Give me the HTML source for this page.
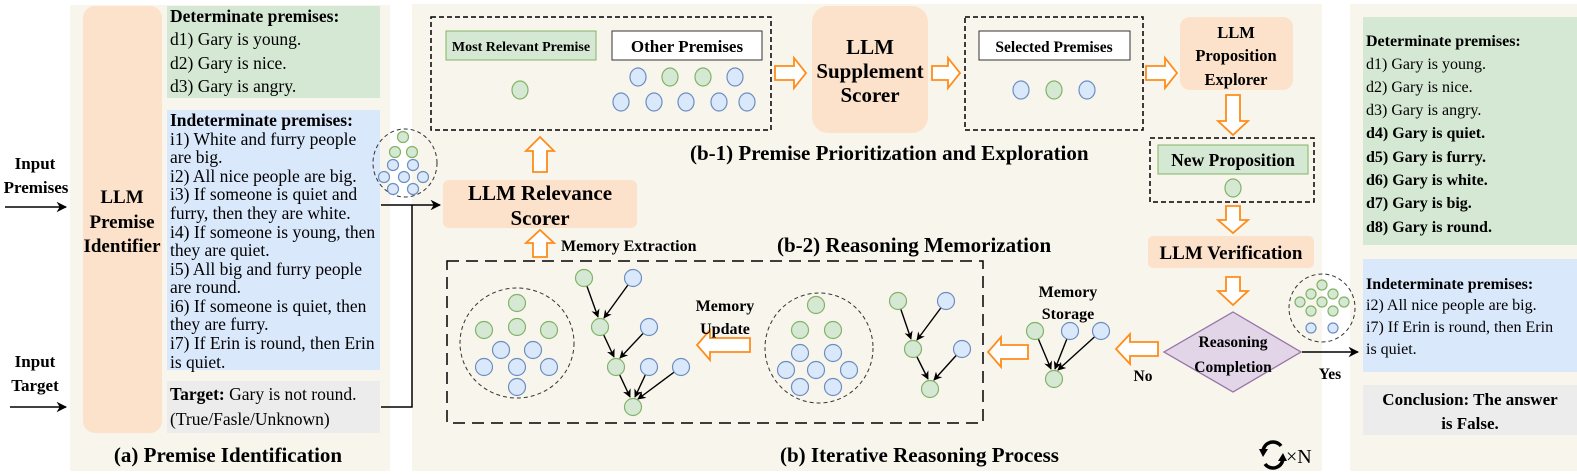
<!DOCTYPE html>
<html><head><meta charset="utf-8"><style>
html,body{margin:0;padding:0;background:#fff;}
svg{display:block;font-family:"Liberation Serif",serif;}
</style></head><body>
<svg width="1577" height="474" viewBox="0 0 1577 474" xmlns="http://www.w3.org/2000/svg" font-family="'Liberation Serif', serif">
<defs>
<marker id="ah" viewBox="0 0 10 10" refX="9" refY="5" markerWidth="7" markerHeight="7" orient="auto"><path d="M0,0 L10,5 L0,10 L3,5 z" fill="#000"/></marker>
<marker id="ah2" viewBox="0 0 10 10" refX="9" refY="5" markerWidth="6" markerHeight="6" orient="auto"><path d="M0,0 L10,5 L0,10 L3,5 z" fill="#000"/></marker>
</defs>
<rect x="70" y="5" width="320" height="466" fill="#f8f5ec"/>
<rect x="412" y="4" width="910" height="467" fill="#f8f5ec"/>
<rect x="1350" y="4" width="227" height="467" fill="#f8f5ec"/>

<rect x="83" y="6" width="79" height="427" rx="12" fill="#fde2cb"/>
<g font-weight="bold" font-size="19" text-anchor="middle"><text x="122" y="203">LLM</text><text x="122" y="228">Premise</text><text x="122" y="252">Identifier</text></g>
<rect x="167" y="6" width="213" height="92" fill="#d5e8d4"/>
<rect x="167" y="110" width="213" height="260" fill="#dae8fc"/>
<rect x="167" y="381" width="213" height="52" fill="#ececec"/>
<g font-size="17.5">
<text x="170" y="22" font-weight="bold">Determinate premises:</text>
<text x="170" y="45">d1) Gary is young.</text>
<text x="170" y="69">d2) Gary is nice.</text>
<text x="170" y="92">d3) Gary is angry.</text>
<text x="170" y="126" font-weight="bold">Indeterminate premises:</text>
<text x="170" y="145">i1) White and furry people</text>
<text x="170" y="163">are big.</text>
<text x="170" y="182">i2) All nice people are big.</text>
<text x="170" y="200">i3) If someone is quiet and</text>
<text x="170" y="219">furry, then they are white.</text>
<text x="170" y="238">i4) If someone is young, then</text>
<text x="170" y="256">they are quiet.</text>
<text x="170" y="275">i5) All big and furry people</text>
<text x="170" y="293">are round.</text>
<text x="170" y="312">i6) If someone is quiet, then</text>
<text x="170" y="330">they are furry.</text>
<text x="170" y="349">i7) If Erin is round, then Erin</text>
<text x="170" y="368">is quiet.</text>
<text x="170" y="400"><tspan font-weight="bold">Target:</tspan> Gary is not round.</text>
<text x="170" y="425">(True/Fasle/Unknown)</text>
</g>
<text x="228" y="462" font-size="21" font-weight="bold" text-anchor="middle">(a) Premise Identification</text>
<g font-size="17" font-weight="bold" text-anchor="middle"><text x="35" y="169">Input</text><text x="36" y="193">Premises</text><text x="35" y="367">Input</text><text x="35" y="391">Target</text></g>
<line x1="5" y1="207" x2="66" y2="207" stroke="#000" stroke-width="1.5" marker-end="url(#ah)"/>
<line x1="10" y1="407" x2="66" y2="407" stroke="#000" stroke-width="1.5" marker-end="url(#ah)"/>
<polyline points="381,407 412,407 412,205" fill="none" stroke="#000" stroke-width="1.5"/>
<line x1="381" y1="205" x2="440" y2="205" stroke="#000" stroke-width="1.5" marker-end="url(#ah)"/>
<ellipse cx="405" cy="163" rx="32" ry="34" fill="none" stroke="#333" stroke-dasharray="4,3"/>
<g stroke-width="1.2">
<g fill="#d5e8d4" stroke="#82b366"><circle cx="403" cy="137" r="5.5"/><circle cx="395" cy="152" r="5.5"/><circle cx="412" cy="152" r="5.5"/></g>
<g fill="#dae8fc" stroke="#6c8ebf"><circle cx="393" cy="165" r="5.5"/><circle cx="413" cy="165" r="5.5"/><circle cx="384" cy="177" r="5.5"/><circle cx="404" cy="177" r="5.5"/><circle cx="423" cy="177" r="5.5"/><circle cx="393" cy="189" r="5.5"/><circle cx="413" cy="189" r="5.5"/></g>
</g>

<rect x="431" y="17" width="340" height="113" fill="none" stroke="#000" stroke-width="1.5" stroke-dasharray="5,3"/>
<rect x="446" y="31" width="150" height="29" fill="#d5e8d4" stroke="#82b366"/>
<text x="521" y="51" font-size="14" font-weight="bold" text-anchor="middle">Most Relevant Premise</text>
<rect x="612" y="31" width="150" height="29" fill="#fff" stroke="#333"/>
<text x="687" y="52" font-size="17" font-weight="bold" text-anchor="middle">Other Premises</text>
<g stroke-width="1.2">
<g fill="#d5e8d4" stroke="#82b366"><ellipse cx="520" cy="90" rx="8" ry="9"/><ellipse cx="670" cy="77" rx="8" ry="9"/><ellipse cx="703" cy="77" rx="8" ry="9"/>
<ellipse cx="1054" cy="90" rx="8" ry="9"/><ellipse cx="1233" cy="188" rx="8" ry="9"/></g>
<g fill="#dae8fc" stroke="#6c8ebf"><ellipse cx="638" cy="77" rx="8" ry="9"/><ellipse cx="735" cy="77" rx="8" ry="9"/>
<ellipse cx="621" cy="102" rx="8" ry="9"/><ellipse cx="654" cy="102" rx="8" ry="9"/><ellipse cx="686" cy="102" rx="8" ry="9"/><ellipse cx="719" cy="102" rx="8" ry="9"/><ellipse cx="747" cy="102" rx="8" ry="9"/>
<ellipse cx="1021" cy="90" rx="8" ry="9"/><ellipse cx="1087" cy="90" rx="8" ry="9"/></g>
</g>
<rect x="812" y="6" width="116" height="127" rx="16" fill="#fde2cb"/>
<g font-size="21" font-weight="bold" text-anchor="middle"><text x="870" y="54">LLM</text><text x="870" y="78">Supplement</text><text x="870" y="102">Scorer</text></g>
<rect x="965" y="17" width="178" height="113" fill="none" stroke="#000" stroke-width="1.5" stroke-dasharray="5,3"/>
<rect x="979" y="31" width="151" height="29" fill="#fff" stroke="#333"/>
<text x="1054" y="52" font-size="15.5" font-weight="bold" text-anchor="middle">Selected Premises</text>
<rect x="1180" y="17" width="113" height="73" rx="10" fill="#fde2cb"/>
<g font-size="16.5" font-weight="bold" text-anchor="middle"><text x="1236" y="38">LLM</text><text x="1236" y="61">Proposition</text><text x="1236" y="85">Explorer</text></g>
<text x="690" y="160" font-size="21" font-weight="bold">(b-1) Premise Prioritization and Exploration</text>
<rect x="1150" y="138" width="164" height="64" fill="none" stroke="#000" stroke-width="1.5" stroke-dasharray="5,3"/>
<rect x="1158" y="145" width="150" height="29" fill="#d5e8d4" stroke="#82b366"/>
<text x="1233" y="166" font-size="17.5" font-weight="bold" text-anchor="middle">New Proposition</text>
<rect x="1148" y="236" width="166" height="32" rx="5" fill="#fde2cb"/>
<text x="1231" y="259" font-size="19" font-weight="bold" text-anchor="middle">LLM Verification</text>
<polygon points="1233,312 1301,352 1233,392 1164,352" fill="#e1d5e7" stroke="#9673a6" stroke-width="1.3"/>
<g font-size="15.5" font-weight="bold" text-anchor="middle"><text x="1233" y="347">Reasoning</text><text x="1233" y="372">Completion</text></g>
<line x1="1302" y1="352" x2="1358" y2="352" stroke="#000" stroke-width="1.5" marker-end="url(#ah)"/>
<text x="1330" y="379" font-size="15.5" font-weight="bold" text-anchor="middle">Yes</text>
<text x="1143" y="381" font-size="15.5" font-weight="bold" text-anchor="middle">No</text>

<g fill="#fff" stroke="#ff8c1a" stroke-width="1.8">
<path d="M775,66 H794 V58 L806,73 L794,88 V80 H775 Z"/>
<path d="M932,66 H948 V58 L960,73 L948,88 V80 H932 Z"/>
<path d="M1146,66 H1165 V58 L1177,73 L1165,88 V80 H1146 Z"/>
<path d="M1226,95 V121 H1218 L1233,135 L1248,121 H1240 V95 Z"/>
<path d="M1226,206 V220 H1218 L1233,233 L1248,220 H1240 V206 Z"/>
<path d="M1226,277 V291 H1218 L1233,305 L1248,291 H1240 V277 Z"/>
<path d="M533,172 V151 H526 L540,137 L554,151 H547 V172 Z"/>
<path d="M533,257 V243 H526 L540,230 L554,243 H547 V257 Z"/>
<path d="M750,338 H710 V330 L697,345 L710,360 V352 H750 Z"/>
<path d="M1028,345 H1001 V337 L988,352 L1001,367 V359 H1028 Z"/>
<path d="M1158,342 H1130 V334 L1116,349 L1130,364 V356 H1158 Z"/>
</g>
<rect x="443" y="180" width="194" height="48" rx="6" fill="#fde2cb"/>
<g font-size="21" font-weight="bold" text-anchor="middle"><text x="540" y="200">LLM Relevance</text><text x="540" y="225">Scorer</text></g>
<text x="561" y="251" font-size="16" font-weight="bold">Memory Extraction</text>
<text x="777" y="252" font-size="21" font-weight="bold">(b-2) Reasoning Memorization</text>

<rect x="447" y="261" width="536" height="162" fill="none" stroke="#000" stroke-width="1.5" stroke-dasharray="12,7"/>
<g font-size="16" font-weight="bold" text-anchor="middle"><text x="725" y="311">Memory</text><text x="725" y="334">Update</text><text x="1068" y="297">Memory</text><text x="1068" y="319">Storage</text></g>
<ellipse cx="517" cy="343" rx="57" ry="55" fill="none" stroke="#333" stroke-dasharray="4,3"/>
<ellipse cx="819" cy="348" rx="54" ry="55" fill="none" stroke="#333" stroke-dasharray="4,3"/>
<g stroke="#000" stroke-width="1.4" marker-end="url(#ah2)">
<line x1="584" y1="278" x2="598" y2="317"/><line x1="633" y1="278" x2="604" y2="318"/>
<line x1="600" y1="327" x2="614" y2="357"/><line x1="649" y1="327" x2="620" y2="358"/>
<line x1="616" y1="367" x2="630" y2="397"/><line x1="649" y1="367" x2="635" y2="397"/><line x1="681" y1="367" x2="638" y2="399"/>
<line x1="898" y1="301" x2="911" y2="339"/><line x1="946" y1="301" x2="917" y2="340"/>
<line x1="913" y1="349" x2="928" y2="379"/><line x1="962" y1="349" x2="934" y2="380"/>
<line x1="1035" y1="331" x2="1051" y2="369"/><line x1="1070" y1="331" x2="1055" y2="369"/><line x1="1101" y1="331" x2="1058" y2="370"/>
</g>
<g stroke-width="1.2">
<g fill="#d5e8d4" stroke="#82b366">
<circle cx="517" cy="303" r="8.5"/><circle cx="484" cy="330" r="8.5"/><circle cx="517" cy="327" r="8.5"/><circle cx="549" cy="330" r="8.5"/>
<circle cx="584" cy="278" r="8.5"/><circle cx="600" cy="327" r="8.5"/><circle cx="616" cy="367" r="8.5"/><circle cx="633" cy="407" r="8.5"/>
<circle cx="816" cy="305" r="8.5"/><circle cx="800" cy="330" r="8.5"/><circle cx="833" cy="330" r="8.5"/>
<circle cx="898" cy="301" r="8.5"/><circle cx="913" cy="349" r="8.5"/><circle cx="930" cy="389" r="8.5"/>
<circle cx="1035" cy="331" r="8.5"/><circle cx="1054" cy="379" r="8.5"/>
</g>
<g fill="#dae8fc" stroke="#6c8ebf">
<circle cx="501" cy="350" r="8.5"/><circle cx="533" cy="350" r="8.5"/><circle cx="484" cy="367" r="8.5"/><circle cx="517" cy="367" r="8.5"/><circle cx="549" cy="367" r="8.5"/><circle cx="517" cy="387" r="8.5"/>
<circle cx="633" cy="278" r="8.5"/><circle cx="649" cy="327" r="8.5"/><circle cx="649" cy="367" r="8.5"/><circle cx="681" cy="367" r="8.5"/>
<circle cx="800" cy="353" r="8.5"/><circle cx="833" cy="353" r="8.5"/><circle cx="786" cy="370" r="8.5"/><circle cx="816" cy="370" r="8.5"/><circle cx="849" cy="370" r="8.5"/><circle cx="800" cy="387" r="8.5"/><circle cx="833" cy="387" r="8.5"/>
<circle cx="946" cy="301" r="8.5"/><circle cx="962" cy="349" r="8.5"/>
<circle cx="1070" cy="331" r="8.5"/><circle cx="1101" cy="331" r="8.5"/>
</g>
</g>
<text x="780" y="462" font-size="21" font-weight="bold">(b) Iterative Reasoning Process</text>
<g fill="none" stroke="#000" stroke-width="3.5">
<path d="M1263,452 A10,10 0 0 1 1281,446"/><path d="M1283,458 A10,10 0 0 1 1265,464"/>
</g>
<path d="M1259,449 L1268,449 L1263,457 Z" fill="#000"/><path d="M1287,461 L1278,461 L1283,453 Z" fill="#000"/>
<text x="1286" y="463" font-size="20">×N</text>

<ellipse cx="1322" cy="308" rx="33" ry="34" fill="none" stroke="#333" stroke-dasharray="4,3"/>
<g stroke-width="1.2">
<g fill="#d5e8d4" stroke="#82b366"><circle cx="1322" cy="285" r="5"/><circle cx="1311" cy="294" r="5"/><circle cx="1333" cy="294" r="5"/><circle cx="1300" cy="302" r="5"/><circle cx="1322" cy="302" r="5"/><circle cx="1344" cy="302" r="5"/><circle cx="1311" cy="311" r="5"/><circle cx="1333" cy="311" r="5"/></g>
<g fill="#dae8fc" stroke="#6c8ebf"><circle cx="1311" cy="328" r="5"/><circle cx="1333" cy="328" r="5"/></g>
</g>

<rect x="1363" y="17" width="214" height="228" fill="#d5e8d4"/>
<rect x="1363" y="259" width="214" height="113" fill="#dae8fc"/>
<rect x="1363" y="385" width="214" height="50" fill="#ececec"/>
<g font-size="16">
<text x="1366" y="46" font-weight="bold">Determinate premises:</text>
<text x="1366" y="69">d1) Gary is young.</text>
<text x="1366" y="92">d2) Gary is nice.</text>
<text x="1366" y="115">d3) Gary is angry.</text>
<g font-weight="bold">
<text x="1366" y="138">d4) Gary is quiet.</text>
<text x="1366" y="162">d5) Gary is furry.</text>
<text x="1366" y="185">d6) Gary is white.</text>
<text x="1366" y="208">d7) Gary is big.</text>
<text x="1366" y="232">d8) Gary is round.</text>
<text x="1366" y="289">Indeterminate premises:</text>
</g>
<text x="1366" y="310">i2) All nice people are big.</text>
<text x="1366" y="332">i7) If Erin is round, then Erin</text>
<text x="1366" y="354">is quiet.</text>
<g font-weight="bold" font-size="17" text-anchor="middle"><text x="1470" y="405">Conclusion: The answer</text><text x="1470" y="429">is False.</text></g>
</g>
</svg>
</body></html>
